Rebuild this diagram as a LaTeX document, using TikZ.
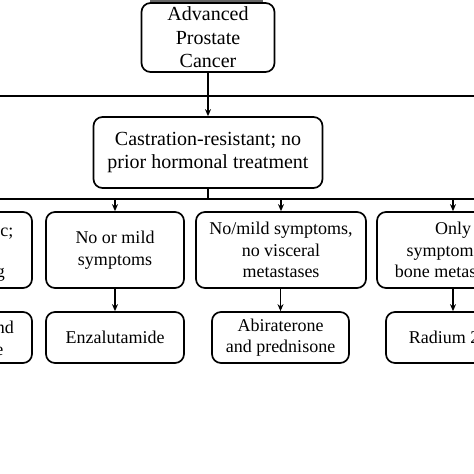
\documentclass[tikz,border=0pt]{standalone}
\usepackage{fontspec}
\setmainfont{Liberation Serif}
\usepackage{tikz}
\usetikzlibrary{positioning,arrows.meta}
\tikzset{
  caja/.style={rectangle, rounded corners=9pt, draw=black, line width=1.7pt,
    align=center, inner sep=2pt},
  flecha/.style={-{Stealth[length=7pt,width=6pt]}, line width=1.2pt},
  linea/.style={line width=1.2pt},
  txtg/.style={font=\fontsize{20}{23.5}\selectfont},
  txtp/.style={font=\fontsize{18}{21.5}\selectfont},
  trozo/.style={txtp, inner sep=0pt},
}

\begin{document}
\begin{tikzpicture}[x=1pt, y=-1pt]
  \useasboundingbox (0,0) rectangle (474,474);
  \clip (0,0) rectangle (474,474);
  % strip of the box above
  \fill[black!60] (150,0) rectangle (263,2.2);
  % upper part
  \node[caja, txtg, minimum width=133pt, minimum height=69pt] (adv) at (208,37.5)
    {Advanced\\Prostate\\Cancer};
  \node[caja, txtg, minimum width=229pt, minimum height=71pt] (cast) at (208,152.5)
    {Castration-resistant; no\\prior hormonal treatment};
  \coordinate (hl) at (0,96);
  \coordinate (hr) at (474,96);
  \draw[linea] (hl) -- (hr);
  \draw[flecha] (adv.south) -- (cast.north);
  % second row
  \node[caja, minimum width=172pt, minimum height=76pt] (sint) at (-54,250) {};
  \node[trozo, anchor=base east] (sinta) at (13.5,236) {c;};
  \node[trozo, anchor=base east] (sintb) at (5,277) {g};
  \node[caja, txtp, minimum width=138pt, minimum height=76pt] (leve) at (115,250)
    {No or mild\\symptoms};
  \node[caja, txtp, minimum width=170pt, minimum height=76pt] (visc) at (281,250)
    {No/mild symptoms,\\no visceral\\metastases};
  \node[caja, txtp, minimum width=152pt, minimum height=76pt] (osea) at (453,250)
    {Only\\symptomatic\\bone metastases};
  % third row
  \node[caja, minimum width=138pt, minimum height=51pt] (doce) at (-37,337.5) {};
  \node[trozo, anchor=base east] (docea) at (14,333) {nd};
  \node[trozo, anchor=base east] (doceb) at (3.5,355) {e};
  \node[caja, txtp, minimum width=138pt, minimum height=51pt] (enza) at (115,337.5)
    {Enzalutamide};
  \node[caja, txtp, minimum width=137pt, minimum height=51pt] (abi) at (280.5,337.5)
    {Abiraterone\\and prednisone};
  \node[caja, txtp, minimum width=134pt, minimum height=51pt] (rad) at (453,337.5)
    {Radium 223};
  % branches
  \coordinate (bl) at (0,199);
  \coordinate (br) at (474,199);
  \draw[linea] (cast.south) -- (cast.south |- bl);
  \draw[linea] (bl) -- (br);
  \draw[flecha] (leve.north |- bl) -- (leve.north);
  \draw[flecha] (visc.north |- bl) -- (visc.north);
  \draw[flecha] (osea.north |- bl) -- (osea.north);
  \draw[flecha] (leve) -- (enza);
  \draw[flecha] (abi.north |- visc.south) -- (abi.north);
  \draw[flecha] (osea) -- (rad);
\end{tikzpicture}
\end{document}
